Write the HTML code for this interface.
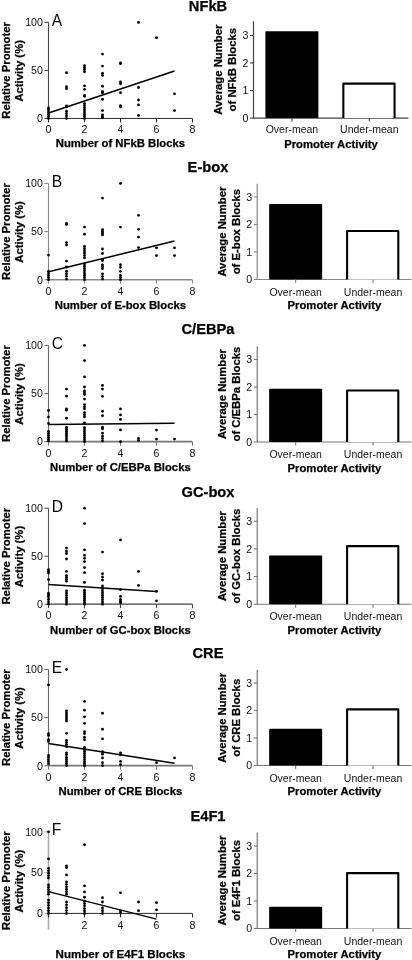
<!DOCTYPE html>
<html><head><meta charset="utf-8"><title>Promoter activity vs transcription factor blocks</title>
<style>
html,body{margin:0;padding:0;background:#fff;}
body{width:412px;height:960px;overflow:hidden;}
svg{display:block;}
text{font-family:"Liberation Sans", Arial, sans-serif;fill:#000;}
.t{font-size:14.7px;font-weight:bold;text-anchor:middle;stroke:#000;stroke-width:0.25px;}
.L{font-size:15.6px;}
.b{font-size:11.3px;font-weight:bold;stroke:#000;stroke-width:0.25px;}
.n{font-size:10.6px;fill:#111;}
.c{font-size:10.5px;fill:#111;}
</style></head>
<body>
<svg width="412" height="960" viewBox="0 0 412 960">
<rect width="412" height="960" fill="#fff"/>
<text x="208" y="10.5" class="t">NFkB</text>
<text transform="translate(51.7 25.7) " class="L">A</text>
<path d="M48.5 22.4V118.45" stroke="#444" stroke-width="1.1" fill="none"/>
<path d="M48.5 118.45H192.3" stroke="#2a2a2a" stroke-width="1.0" fill="none"/>
<path d="M44.5 118.45H48.5" stroke="#444" stroke-width="1.1"/>
<text x="42.9" y="122.25" class="n" text-anchor="end">0</text>
<path d="M44.5 70.42H48.5" stroke="#444" stroke-width="1.1"/>
<text x="42.9" y="74.22" class="n" text-anchor="end">50</text>
<path d="M44.5 22.4H48.5" stroke="#444" stroke-width="1.1"/>
<text x="42.9" y="26.2" class="n" text-anchor="end">100</text>
<path d="M48.5 118.45V122.45" stroke="#2a2a2a" stroke-width="1.1"/>
<text x="48.5" y="133.2" class="n" text-anchor="middle">0</text>
<path d="M84.5 118.45V122.45" stroke="#2a2a2a" stroke-width="1.1"/>
<text x="84.5" y="133.2" class="n" text-anchor="middle">2</text>
<path d="M120.5 118.45V122.45" stroke="#2a2a2a" stroke-width="1.1"/>
<text x="120.5" y="133.2" class="n" text-anchor="middle">4</text>
<path d="M156.5 118.45V122.45" stroke="#2a2a2a" stroke-width="1.1"/>
<text x="156.5" y="133.2" class="n" text-anchor="middle">6</text>
<path d="M192.5 118.45V122.45" stroke="#2a2a2a" stroke-width="1.1"/>
<text x="192.5" y="133.2" class="n" text-anchor="middle">8</text>
<text x="120.4" y="147.4" class="b" text-anchor="middle">Number of NFkB Blocks</text>
<text transform="translate(9.7 70.42) rotate(-90)" class="b" text-anchor="middle">Relative Promoter</text>
<text transform="translate(23.3 70.83) rotate(-90)" class="b" text-anchor="middle">Activity (%)</text>
<g fill="#000"><circle cx="48.5" cy="118.45" r="1.4"/><circle cx="48.5" cy="116.34" r="1.4"/><circle cx="48.5" cy="114.22" r="1.4"/><circle cx="48.5" cy="112.11" r="1.4"/><circle cx="48.5" cy="110" r="1.4"/><circle cx="48.5" cy="107.88" r="1.4"/><circle cx="66.5" cy="72.73" r="1.4"/><circle cx="66.5" cy="86.75" r="1.4"/><circle cx="66.5" cy="88.67" r="1.4"/><circle cx="66.5" cy="105.96" r="1.4"/><circle cx="66.5" cy="106.92" r="1.4"/><circle cx="66.5" cy="118.45" r="1.4"/><circle cx="66.5" cy="116.05" r="1.4"/><circle cx="66.5" cy="113.65" r="1.4"/><circle cx="66.5" cy="111.25" r="1.4"/><circle cx="84.5" cy="65.62" r="1.4"/><circle cx="84.5" cy="67.54" r="1.4"/><circle cx="84.5" cy="69.46" r="1.4"/><circle cx="84.5" cy="71.77" r="1.4"/><circle cx="84.5" cy="85.79" r="1.4"/><circle cx="84.5" cy="89.35" r="1.4"/><circle cx="84.5" cy="95.4" r="1.4"/><circle cx="84.5" cy="96.36" r="1.4"/><circle cx="84.5" cy="118.45" r="1.4"/><circle cx="84.5" cy="116.32" r="1.4"/><circle cx="84.5" cy="114.2" r="1.4"/><circle cx="84.5" cy="112.07" r="1.4"/><circle cx="84.5" cy="109.94" r="1.4"/><circle cx="84.5" cy="107.82" r="1.4"/><circle cx="84.5" cy="105.69" r="1.4"/><circle cx="84.5" cy="103.56" r="1.4"/><circle cx="102.5" cy="54.1" r="1.4"/><circle cx="102.5" cy="66.1" r="1.4"/><circle cx="102.5" cy="73.31" r="1.4"/><circle cx="102.5" cy="75.42" r="1.4"/><circle cx="102.5" cy="86.27" r="1.4"/><circle cx="102.5" cy="91.56" r="1.4"/><circle cx="102.5" cy="93" r="1.4"/><circle cx="102.5" cy="99.24" r="1.4"/><circle cx="102.5" cy="110.57" r="1.4"/><circle cx="102.5" cy="114.8" r="1.4"/><circle cx="102.5" cy="116.53" r="1.4"/><circle cx="102.5" cy="117.78" r="1.4"/><circle cx="120.5" cy="62.93" r="1.4"/><circle cx="120.5" cy="63.7" r="1.4"/><circle cx="120.5" cy="81.95" r="1.4"/><circle cx="120.5" cy="83.87" r="1.4"/><circle cx="120.5" cy="92.71" r="1.4"/><circle cx="120.5" cy="105.68" r="1.4"/><circle cx="120.5" cy="106.92" r="1.4"/><circle cx="138.5" cy="22.4" r="1.4"/><circle cx="138.5" cy="87.52" r="1.4"/><circle cx="138.5" cy="100.01" r="1.4"/><circle cx="138.5" cy="104.91" r="1.4"/><circle cx="138.5" cy="115.38" r="1.4"/><circle cx="156.5" cy="37.77" r="1.4"/><circle cx="174.5" cy="93.86" r="1.4"/><circle cx="174.5" cy="110.57" r="1.4"/></g>
<path d="M48.5 112.98L174.5 71" stroke="#000" stroke-width="1.5" fill="none"/>
<path d="M253.5 21.25V118.1H408.5" stroke="#444" stroke-width="1.2" fill="none"/>
<path d="M250 118.1H253.5" stroke="#444" stroke-width="1.1"/>
<text x="248.3" y="121.9" class="n" text-anchor="end">0</text>
<path d="M250 90.53H253.5" stroke="#444" stroke-width="1.1"/>
<text x="248.3" y="94.33" class="n" text-anchor="end">1</text>
<path d="M250 62.96H253.5" stroke="#444" stroke-width="1.1"/>
<text x="248.3" y="66.76" class="n" text-anchor="end">2</text>
<path d="M250 35.39H253.5" stroke="#444" stroke-width="1.1"/>
<text x="248.3" y="39.19" class="n" text-anchor="end">3</text>
<rect x="265.4" y="31.25" width="53" height="86.85" fill="#000" rx="0.8"/>
<path d="M343.35 118.1V83.58H394.55V118.1" fill="#fff" stroke="#000" stroke-width="2.1" stroke-linejoin="round"/>
<path d="M291.9 118.1V121.6" stroke="#444" stroke-width="1.1"/>
<path d="M369.3 118.1V121.6" stroke="#444" stroke-width="1.1"/>
<text x="291.9" y="133.3" class="c" text-anchor="middle">Over-mean</text>
<text x="369.3" y="133.3" class="c" text-anchor="middle">Under-mean</text>
<text x="331" y="147.7" class="b" text-anchor="middle">Promoter Activity</text>
<text transform="translate(222.2 69.67) rotate(-90)" class="b" text-anchor="middle">Average Number</text>
<text transform="translate(235.9 69.67) rotate(-90)" class="b" text-anchor="middle">of NFkB Blocks</text>
<text x="208" y="172.1" class="t">E-box</text>
<text transform="translate(51.7 186.7) " class="L">B</text>
<path d="M48.5 183.4V279.7" stroke="#888" stroke-width="1.1" fill="none"/>
<path d="M48.5 279.7H192.3" stroke="#8c8c8c" stroke-width="1.6" fill="none"/>
<path d="M44.5 279.7H48.5" stroke="#888" stroke-width="1.1"/>
<text x="42.9" y="283.5" class="n" text-anchor="end">0</text>
<path d="M44.5 231.55H48.5" stroke="#888" stroke-width="1.1"/>
<text x="42.9" y="235.35" class="n" text-anchor="end">50</text>
<path d="M44.5 183.4H48.5" stroke="#888" stroke-width="1.1"/>
<text x="42.9" y="187.2" class="n" text-anchor="end">100</text>
<path d="M48.5 279.7V283.7" stroke="#8c8c8c" stroke-width="1.1"/>
<text x="48.5" y="295" class="n" text-anchor="middle">0</text>
<path d="M84.5 279.7V283.7" stroke="#8c8c8c" stroke-width="1.1"/>
<text x="84.5" y="295" class="n" text-anchor="middle">2</text>
<path d="M120.5 279.7V283.7" stroke="#8c8c8c" stroke-width="1.1"/>
<text x="120.5" y="295" class="n" text-anchor="middle">4</text>
<path d="M156.5 279.7V283.7" stroke="#8c8c8c" stroke-width="1.1"/>
<text x="156.5" y="295" class="n" text-anchor="middle">6</text>
<path d="M192.5 279.7V283.7" stroke="#8c8c8c" stroke-width="1.1"/>
<text x="192.5" y="295" class="n" text-anchor="middle">8</text>
<text x="120.4" y="309.25" class="b" text-anchor="middle">Number of E-box Blocks</text>
<text transform="translate(9.7 231.55) rotate(-90)" class="b" text-anchor="middle">Relative Promoter</text>
<text transform="translate(23.3 231.95) rotate(-90)" class="b" text-anchor="middle">Activity (%)</text>
<g fill="#000"><circle cx="48.5" cy="255.05" r="1.4"/><circle cx="48.5" cy="279.7" r="1.4"/><circle cx="48.5" cy="277.61" r="1.4"/><circle cx="48.5" cy="275.51" r="1.4"/><circle cx="48.5" cy="273.42" r="1.4"/><circle cx="48.5" cy="271.32" r="1.4"/><circle cx="66.5" cy="223.36" r="1.4"/><circle cx="66.5" cy="224.62" r="1.4"/><circle cx="66.5" cy="242.62" r="1.4"/><circle cx="66.5" cy="245.03" r="1.4"/><circle cx="66.5" cy="261.11" r="1.4"/><circle cx="66.5" cy="266.99" r="1.4"/><circle cx="66.5" cy="273.73" r="1.4"/><circle cx="66.5" cy="271.13" r="1.4"/><circle cx="66.5" cy="279.12" r="1.4"/><circle cx="66.5" cy="276.14" r="1.4"/><circle cx="84.5" cy="227.12" r="1.4"/><circle cx="84.5" cy="234.15" r="1.4"/><circle cx="84.5" cy="257.84" r="1.4"/><circle cx="84.5" cy="255.55" r="1.4"/><circle cx="84.5" cy="253.26" r="1.4"/><circle cx="84.5" cy="250.96" r="1.4"/><circle cx="84.5" cy="248.67" r="1.4"/><circle cx="84.5" cy="246.38" r="1.4"/><circle cx="84.5" cy="279.7" r="1.4"/><circle cx="84.5" cy="277.46" r="1.4"/><circle cx="84.5" cy="275.22" r="1.4"/><circle cx="84.5" cy="272.97" r="1.4"/><circle cx="84.5" cy="270.73" r="1.4"/><circle cx="84.5" cy="268.49" r="1.4"/><circle cx="84.5" cy="266.25" r="1.4"/><circle cx="84.5" cy="264" r="1.4"/><circle cx="102.5" cy="198.04" r="1.4"/><circle cx="102.5" cy="234.92" r="1.4"/><circle cx="102.5" cy="233.16" r="1.4"/><circle cx="102.5" cy="231.39" r="1.4"/><circle cx="102.5" cy="229.62" r="1.4"/><circle cx="102.5" cy="248.98" r="1.4"/><circle cx="102.5" cy="253.41" r="1.4"/><circle cx="102.5" cy="259.86" r="1.4"/><circle cx="102.5" cy="260.44" r="1.4"/><circle cx="102.5" cy="268.53" r="1.4"/><circle cx="102.5" cy="266.7" r="1.4"/><circle cx="102.5" cy="264.87" r="1.4"/><circle cx="102.5" cy="279.12" r="1.4"/><circle cx="102.5" cy="276.57" r="1.4"/><circle cx="102.5" cy="274.02" r="1.4"/><circle cx="120.5" cy="183.4" r="1.4"/><circle cx="120.5" cy="227.12" r="1.4"/><circle cx="120.5" cy="267.37" r="1.4"/><circle cx="120.5" cy="264.77" r="1.4"/><circle cx="120.5" cy="271.32" r="1.4"/><circle cx="120.5" cy="279.7" r="1.4"/><circle cx="120.5" cy="277.58" r="1.4"/><circle cx="120.5" cy="275.46" r="1.4"/><circle cx="138.5" cy="215.28" r="1.4"/><circle cx="138.5" cy="229.34" r="1.4"/><circle cx="138.5" cy="237.04" r="1.4"/><circle cx="138.5" cy="247.54" r="1.4"/><circle cx="156.5" cy="247.82" r="1.4"/><circle cx="156.5" cy="255.53" r="1.4"/><circle cx="174.5" cy="247.82" r="1.4"/><circle cx="174.5" cy="255.53" r="1.4"/></g>
<path d="M48.5 271.8L174.5 241.08" stroke="#000" stroke-width="1.5" fill="none"/>
<path d="M257.25 183.75V279.5H411.5" stroke="#888" stroke-width="1.2" fill="none"/>
<path d="M253.75 279.5H257.25" stroke="#888" stroke-width="1.1"/>
<text x="252.05" y="283.3" class="n" text-anchor="end">0</text>
<path d="M253.75 252H257.25" stroke="#888" stroke-width="1.1"/>
<text x="252.05" y="255.8" class="n" text-anchor="end">1</text>
<path d="M253.75 224.5H257.25" stroke="#888" stroke-width="1.1"/>
<text x="252.05" y="228.3" class="n" text-anchor="end">2</text>
<path d="M253.75 197H257.25" stroke="#888" stroke-width="1.1"/>
<text x="252.05" y="200.8" class="n" text-anchor="end">3</text>
<rect x="269.15" y="203.88" width="53" height="75.62" fill="#000" rx="0.8"/>
<path d="M347.1 279.5V231.05H398.3V279.5" fill="#fff" stroke="#000" stroke-width="2.1" stroke-linejoin="round"/>
<path d="M295.65 279.5V283" stroke="#888" stroke-width="1.1"/>
<path d="M373.05 279.5V283" stroke="#888" stroke-width="1.1"/>
<text x="295.65" y="295.5" class="c" text-anchor="middle">Over-mean</text>
<text x="373.05" y="295.5" class="c" text-anchor="middle">Under-mean</text>
<text x="334.38" y="309.1" class="b" text-anchor="middle">Promoter Activity</text>
<text transform="translate(225.95 231.62) rotate(-90)" class="b" text-anchor="middle">Average Number</text>
<text transform="translate(239.65 231.62) rotate(-90)" class="b" text-anchor="middle">of E-box Blocks</text>
<text x="208" y="333.9" class="t">C/EBPa</text>
<text transform="translate(51.7 348.75) " class="L">C</text>
<path d="M48.5 345.45V441.65" stroke="#666" stroke-width="1.1" fill="none"/>
<path d="M48.5 441.65H192.3" stroke="#777" stroke-width="1.7" fill="none"/>
<path d="M44.5 441.65H48.5" stroke="#666" stroke-width="1.1"/>
<text x="42.9" y="445.45" class="n" text-anchor="end">0</text>
<path d="M44.5 393.55H48.5" stroke="#666" stroke-width="1.1"/>
<text x="42.9" y="397.35" class="n" text-anchor="end">50</text>
<path d="M44.5 345.45H48.5" stroke="#666" stroke-width="1.1"/>
<text x="42.9" y="349.25" class="n" text-anchor="end">100</text>
<path d="M48.5 441.65V445.65" stroke="#777" stroke-width="1.1"/>
<text x="48.5" y="456.8" class="n" text-anchor="middle">0</text>
<path d="M84.5 441.65V445.65" stroke="#777" stroke-width="1.1"/>
<text x="84.5" y="456.8" class="n" text-anchor="middle">2</text>
<path d="M120.5 441.65V445.65" stroke="#777" stroke-width="1.1"/>
<text x="120.5" y="456.8" class="n" text-anchor="middle">4</text>
<path d="M156.5 441.65V445.65" stroke="#777" stroke-width="1.1"/>
<text x="156.5" y="456.8" class="n" text-anchor="middle">6</text>
<path d="M192.5 441.65V445.65" stroke="#777" stroke-width="1.1"/>
<text x="192.5" y="456.8" class="n" text-anchor="middle">8</text>
<text x="120.4" y="471.2" class="b" text-anchor="middle">Number of C/EBPa Blocks</text>
<text transform="translate(9.7 393.55) rotate(-90)" class="b" text-anchor="middle">Relative Promoter</text>
<text transform="translate(23.3 393.95) rotate(-90)" class="b" text-anchor="middle">Activity (%)</text>
<g fill="#000"><circle cx="48.5" cy="410.48" r="1.4"/><circle cx="48.5" cy="417.02" r="1.4"/><circle cx="48.5" cy="423.47" r="1.4"/><circle cx="48.5" cy="441.07" r="1.4"/><circle cx="48.5" cy="439.13" r="1.4"/><circle cx="48.5" cy="437.19" r="1.4"/><circle cx="48.5" cy="435.24" r="1.4"/><circle cx="48.5" cy="433.3" r="1.4"/><circle cx="48.5" cy="431.36" r="1.4"/><circle cx="66.5" cy="389.12" r="1.4"/><circle cx="66.5" cy="396.15" r="1.4"/><circle cx="66.5" cy="408.94" r="1.4"/><circle cx="66.5" cy="410.19" r="1.4"/><circle cx="66.5" cy="418.27" r="1.4"/><circle cx="66.5" cy="441.07" r="1.4"/><circle cx="66.5" cy="439.09" r="1.4"/><circle cx="66.5" cy="437.11" r="1.4"/><circle cx="66.5" cy="435.14" r="1.4"/><circle cx="66.5" cy="433.16" r="1.4"/><circle cx="66.5" cy="431.18" r="1.4"/><circle cx="66.5" cy="429.2" r="1.4"/><circle cx="66.5" cy="427.22" r="1.4"/><circle cx="84.5" cy="345.45" r="1.4"/><circle cx="84.5" cy="360.55" r="1.4"/><circle cx="84.5" cy="376.91" r="1.4"/><circle cx="84.5" cy="387.01" r="1.4"/><circle cx="84.5" cy="394.51" r="1.4"/><circle cx="84.5" cy="392.73" r="1.4"/><circle cx="84.5" cy="390.95" r="1.4"/><circle cx="84.5" cy="399.03" r="1.4"/><circle cx="84.5" cy="408.94" r="1.4"/><circle cx="84.5" cy="406.78" r="1.4"/><circle cx="84.5" cy="404.61" r="1.4"/><circle cx="84.5" cy="416.83" r="1.4"/><circle cx="84.5" cy="414.71" r="1.4"/><circle cx="84.5" cy="412.6" r="1.4"/><circle cx="84.5" cy="422.89" r="1.4"/><circle cx="84.5" cy="441.65" r="1.4"/><circle cx="84.5" cy="439.66" r="1.4"/><circle cx="84.5" cy="437.66" r="1.4"/><circle cx="84.5" cy="435.67" r="1.4"/><circle cx="84.5" cy="433.68" r="1.4"/><circle cx="84.5" cy="431.69" r="1.4"/><circle cx="84.5" cy="429.69" r="1.4"/><circle cx="84.5" cy="427.7" r="1.4"/><circle cx="102.5" cy="385.47" r="1.4"/><circle cx="102.5" cy="389.12" r="1.4"/><circle cx="102.5" cy="396.34" r="1.4"/><circle cx="102.5" cy="411.25" r="1.4"/><circle cx="102.5" cy="415.68" r="1.4"/><circle cx="102.5" cy="428.95" r="1.4"/><circle cx="102.5" cy="427.22" r="1.4"/><circle cx="102.5" cy="433.18" r="1.4"/><circle cx="102.5" cy="441.07" r="1.4"/><circle cx="102.5" cy="438.62" r="1.4"/><circle cx="102.5" cy="436.17" r="1.4"/><circle cx="120.5" cy="408.94" r="1.4"/><circle cx="120.5" cy="414.91" r="1.4"/><circle cx="120.5" cy="419.43" r="1.4"/><circle cx="120.5" cy="429.91" r="1.4"/><circle cx="120.5" cy="441.65" r="1.4"/><circle cx="138.5" cy="440.4" r="1.4"/><circle cx="138.5" cy="438.38" r="1.4"/><circle cx="156.5" cy="430.11" r="1.4"/><circle cx="156.5" cy="439.05" r="1.4"/><circle cx="174.5" cy="439.05" r="1.4"/></g>
<path d="M48.5 424.62L174.5 423.37" stroke="#000" stroke-width="1.5" fill="none"/>
<path d="M257.25 346.25V442H411.5" stroke="#777" stroke-width="1.2" fill="none"/>
<path d="M253.75 442H257.25" stroke="#777" stroke-width="1.1"/>
<text x="252.05" y="445.8" class="n" text-anchor="end">0</text>
<path d="M253.75 414.5H257.25" stroke="#777" stroke-width="1.1"/>
<text x="252.05" y="418.3" class="n" text-anchor="end">1</text>
<path d="M253.75 387H257.25" stroke="#777" stroke-width="1.1"/>
<text x="252.05" y="390.8" class="n" text-anchor="end">2</text>
<path d="M253.75 359.5H257.25" stroke="#777" stroke-width="1.1"/>
<text x="252.05" y="363.3" class="n" text-anchor="end">3</text>
<rect x="269.15" y="388.65" width="53" height="53.35" fill="#000" rx="0.8"/>
<path d="M347.1 442V390.53H398.3V442" fill="#fff" stroke="#000" stroke-width="2.1" stroke-linejoin="round"/>
<path d="M295.65 442V445.5" stroke="#777" stroke-width="1.1"/>
<path d="M373.05 442V445.5" stroke="#777" stroke-width="1.1"/>
<text x="295.65" y="458" class="c" text-anchor="middle">Over-mean</text>
<text x="373.05" y="458" class="c" text-anchor="middle">Under-mean</text>
<text x="334.38" y="471.6" class="b" text-anchor="middle">Promoter Activity</text>
<text transform="translate(225.95 394.12) rotate(-90)" class="b" text-anchor="middle">Average Number</text>
<text transform="translate(239.65 394.12) rotate(-90)" class="b" text-anchor="middle">of C/EBPa Blocks</text>
<text x="208" y="496.8" class="t">GC-box</text>
<text transform="translate(51.7 511.5) " class="L">D</text>
<path d="M48.5 508.2V604.2" stroke="#555" stroke-width="1.1" fill="none"/>
<path d="M48.5 604.2H192.3" stroke="#444" stroke-width="1.3" fill="none"/>
<path d="M44.5 604.2H48.5" stroke="#555" stroke-width="1.1"/>
<text x="42.9" y="608" class="n" text-anchor="end">0</text>
<path d="M44.5 556.2H48.5" stroke="#555" stroke-width="1.1"/>
<text x="42.9" y="560" class="n" text-anchor="end">50</text>
<path d="M44.5 508.2H48.5" stroke="#555" stroke-width="1.1"/>
<text x="42.9" y="512" class="n" text-anchor="end">100</text>
<path d="M48.5 604.2V608.2" stroke="#444" stroke-width="1.1"/>
<text x="48.5" y="619.2" class="n" text-anchor="middle">0</text>
<path d="M84.5 604.2V608.2" stroke="#444" stroke-width="1.1"/>
<text x="84.5" y="619.2" class="n" text-anchor="middle">2</text>
<path d="M120.5 604.2V608.2" stroke="#444" stroke-width="1.1"/>
<text x="120.5" y="619.2" class="n" text-anchor="middle">4</text>
<path d="M156.5 604.2V608.2" stroke="#444" stroke-width="1.1"/>
<text x="156.5" y="619.2" class="n" text-anchor="middle">6</text>
<path d="M192.5 604.2V608.2" stroke="#444" stroke-width="1.1"/>
<text x="192.5" y="619.2" class="n" text-anchor="middle">8</text>
<text x="120.4" y="633.6" class="b" text-anchor="middle">Number of GC-box Blocks</text>
<text transform="translate(9.7 556.2) rotate(-90)" class="b" text-anchor="middle">Relative Promoter</text>
<text transform="translate(23.3 556.6) rotate(-90)" class="b" text-anchor="middle">Activity (%)</text>
<g fill="#000"><circle cx="48.5" cy="573" r="1.4"/><circle cx="48.5" cy="571.32" r="1.4"/><circle cx="48.5" cy="569.64" r="1.4"/><circle cx="48.5" cy="579.62" r="1.4"/><circle cx="48.5" cy="597" r="1.4"/><circle cx="48.5" cy="595.13" r="1.4"/><circle cx="48.5" cy="593.26" r="1.4"/><circle cx="48.5" cy="604.2" r="1.4"/><circle cx="48.5" cy="601.8" r="1.4"/><circle cx="48.5" cy="599.4" r="1.4"/><circle cx="66.5" cy="548.04" r="1.4"/><circle cx="66.5" cy="553.51" r="1.4"/><circle cx="66.5" cy="551.11" r="1.4"/><circle cx="66.5" cy="558.98" r="1.4"/><circle cx="66.5" cy="571.37" r="1.4"/><circle cx="66.5" cy="581.16" r="1.4"/><circle cx="66.5" cy="579.3" r="1.4"/><circle cx="66.5" cy="577.45" r="1.4"/><circle cx="66.5" cy="575.59" r="1.4"/><circle cx="66.5" cy="604.2" r="1.4"/><circle cx="66.5" cy="601.98" r="1.4"/><circle cx="66.5" cy="599.75" r="1.4"/><circle cx="66.5" cy="597.53" r="1.4"/><circle cx="66.5" cy="595.3" r="1.4"/><circle cx="66.5" cy="593.08" r="1.4"/><circle cx="66.5" cy="590.86" r="1.4"/><circle cx="84.5" cy="508.2" r="1.4"/><circle cx="84.5" cy="523.56" r="1.4"/><circle cx="84.5" cy="549.86" r="1.4"/><circle cx="84.5" cy="558.31" r="1.4"/><circle cx="84.5" cy="555.34" r="1.4"/><circle cx="84.5" cy="561.58" r="1.4"/><circle cx="84.5" cy="567.62" r="1.4"/><circle cx="84.5" cy="572.71" r="1.4"/><circle cx="84.5" cy="582.41" r="1.4"/><circle cx="84.5" cy="604.2" r="1.4"/><circle cx="84.5" cy="602.2" r="1.4"/><circle cx="84.5" cy="600.2" r="1.4"/><circle cx="84.5" cy="598.19" r="1.4"/><circle cx="84.5" cy="596.19" r="1.4"/><circle cx="84.5" cy="594.19" r="1.4"/><circle cx="84.5" cy="592.19" r="1.4"/><circle cx="84.5" cy="590.18" r="1.4"/><circle cx="102.5" cy="552.07" r="1.4"/><circle cx="102.5" cy="573.67" r="1.4"/><circle cx="102.5" cy="580.01" r="1.4"/><circle cx="102.5" cy="576.94" r="1.4"/><circle cx="102.5" cy="585.96" r="1.4"/><circle cx="102.5" cy="604.2" r="1.4"/><circle cx="102.5" cy="601.95" r="1.4"/><circle cx="102.5" cy="599.7" r="1.4"/><circle cx="102.5" cy="597.45" r="1.4"/><circle cx="102.5" cy="595.2" r="1.4"/><circle cx="102.5" cy="592.95" r="1.4"/><circle cx="102.5" cy="590.71" r="1.4"/><circle cx="102.5" cy="588.46" r="1.4"/><circle cx="120.5" cy="539.88" r="1.4"/><circle cx="120.5" cy="589.7" r="1.4"/><circle cx="120.5" cy="596.42" r="1.4"/><circle cx="120.5" cy="602.95" r="1.4"/><circle cx="120.5" cy="601.18" r="1.4"/><circle cx="120.5" cy="599.4" r="1.4"/><circle cx="138.5" cy="571.46" r="1.4"/><circle cx="138.5" cy="585.38" r="1.4"/><circle cx="156.5" cy="591.43" r="1.4"/><circle cx="156.5" cy="600.84" r="1.4"/></g>
<path d="M48.5 584.52L156.5 591.43" stroke="#000" stroke-width="1.5" fill="none"/>
<path d="M257.25 508V604.25H411.5" stroke="#777" stroke-width="1.2" fill="none"/>
<path d="M253.75 604.25H257.25" stroke="#777" stroke-width="1.1"/>
<text x="252.05" y="608.05" class="n" text-anchor="end">0</text>
<path d="M253.75 576.58H257.25" stroke="#777" stroke-width="1.1"/>
<text x="252.05" y="580.38" class="n" text-anchor="end">1</text>
<path d="M253.75 548.91H257.25" stroke="#777" stroke-width="1.1"/>
<text x="252.05" y="552.71" class="n" text-anchor="end">2</text>
<path d="M253.75 521.24H257.25" stroke="#777" stroke-width="1.1"/>
<text x="252.05" y="525.04" class="n" text-anchor="end">3</text>
<rect x="269.15" y="555.55" width="53" height="48.7" fill="#000" rx="0.8"/>
<path d="M347.1 604.25V546.09H398.3V604.25" fill="#fff" stroke="#000" stroke-width="2.1" stroke-linejoin="round"/>
<path d="M295.65 604.25V607.75" stroke="#777" stroke-width="1.1"/>
<path d="M373.05 604.25V607.75" stroke="#777" stroke-width="1.1"/>
<text x="295.65" y="620.25" class="c" text-anchor="middle">Over-mean</text>
<text x="373.05" y="620.25" class="c" text-anchor="middle">Under-mean</text>
<text x="334.38" y="633.85" class="b" text-anchor="middle">Promoter Activity</text>
<text transform="translate(225.95 556.12) rotate(-90)" class="b" text-anchor="middle">Average Number</text>
<text transform="translate(239.65 556.12) rotate(-90)" class="b" text-anchor="middle">of GC-box Blocks</text>
<text x="208" y="658.1" class="t">CRE</text>
<text transform="translate(51.7 672.8) " class="L">E</text>
<path d="M48.5 669.5V765.7" stroke="#666" stroke-width="1.1" fill="none"/>
<path d="M48.5 765.7H192.3" stroke="#777" stroke-width="1.8" fill="none"/>
<path d="M44.5 765.7H48.5" stroke="#666" stroke-width="1.1"/>
<text x="42.9" y="769.5" class="n" text-anchor="end">0</text>
<path d="M44.5 717.6H48.5" stroke="#666" stroke-width="1.1"/>
<text x="42.9" y="721.4" class="n" text-anchor="end">50</text>
<path d="M44.5 669.5H48.5" stroke="#666" stroke-width="1.1"/>
<text x="42.9" y="673.3" class="n" text-anchor="end">100</text>
<path d="M48.5 765.7V769.7" stroke="#777" stroke-width="1.1"/>
<text x="48.5" y="780.8" class="n" text-anchor="middle">0</text>
<path d="M84.5 765.7V769.7" stroke="#777" stroke-width="1.1"/>
<text x="84.5" y="780.8" class="n" text-anchor="middle">2</text>
<path d="M120.5 765.7V769.7" stroke="#777" stroke-width="1.1"/>
<text x="120.5" y="780.8" class="n" text-anchor="middle">4</text>
<path d="M156.5 765.7V769.7" stroke="#777" stroke-width="1.1"/>
<text x="156.5" y="780.8" class="n" text-anchor="middle">6</text>
<path d="M192.5 765.7V769.7" stroke="#777" stroke-width="1.1"/>
<text x="192.5" y="780.8" class="n" text-anchor="middle">8</text>
<text x="120.4" y="795.1" class="b" text-anchor="middle">Number of CRE Blocks</text>
<text transform="translate(9.7 717.6) rotate(-90)" class="b" text-anchor="middle">Relative Promoter</text>
<text transform="translate(23.3 718) rotate(-90)" class="b" text-anchor="middle">Activity (%)</text>
<g fill="#000"><circle cx="48.5" cy="684.89" r="1.4"/><circle cx="48.5" cy="735.4" r="1.4"/><circle cx="48.5" cy="733.57" r="1.4"/><circle cx="48.5" cy="741.46" r="1.4"/><circle cx="48.5" cy="739.73" r="1.4"/><circle cx="48.5" cy="763.87" r="1.4"/><circle cx="48.5" cy="761.76" r="1.4"/><circle cx="48.5" cy="759.64" r="1.4"/><circle cx="48.5" cy="757.52" r="1.4"/><circle cx="48.5" cy="755.41" r="1.4"/><circle cx="66.5" cy="669.5" r="1.4"/><circle cx="66.5" cy="721.06" r="1.4"/><circle cx="66.5" cy="719.02" r="1.4"/><circle cx="66.5" cy="716.98" r="1.4"/><circle cx="66.5" cy="714.94" r="1.4"/><circle cx="66.5" cy="712.91" r="1.4"/><circle cx="66.5" cy="710.87" r="1.4"/><circle cx="66.5" cy="733.28" r="1.4"/><circle cx="66.5" cy="744.54" r="1.4"/><circle cx="66.5" cy="742.42" r="1.4"/><circle cx="66.5" cy="740.3" r="1.4"/><circle cx="66.5" cy="746.84" r="1.4"/><circle cx="66.5" cy="754.83" r="1.4"/><circle cx="66.5" cy="753" r="1.4"/><circle cx="66.5" cy="765.7" r="1.4"/><circle cx="66.5" cy="763.61" r="1.4"/><circle cx="66.5" cy="761.52" r="1.4"/><circle cx="66.5" cy="759.42" r="1.4"/><circle cx="66.5" cy="757.33" r="1.4"/><circle cx="84.5" cy="701.44" r="1.4"/><circle cx="84.5" cy="710.19" r="1.4"/><circle cx="84.5" cy="716.83" r="1.4"/><circle cx="84.5" cy="723.28" r="1.4"/><circle cx="84.5" cy="733.57" r="1.4"/><circle cx="84.5" cy="731.74" r="1.4"/><circle cx="84.5" cy="739.73" r="1.4"/><circle cx="84.5" cy="737.13" r="1.4"/><circle cx="84.5" cy="765.7" r="1.4"/><circle cx="84.5" cy="763.67" r="1.4"/><circle cx="84.5" cy="761.64" r="1.4"/><circle cx="84.5" cy="759.61" r="1.4"/><circle cx="84.5" cy="757.58" r="1.4"/><circle cx="84.5" cy="755.55" r="1.4"/><circle cx="84.5" cy="753.51" r="1.4"/><circle cx="84.5" cy="751.48" r="1.4"/><circle cx="84.5" cy="749.45" r="1.4"/><circle cx="84.5" cy="747.42" r="1.4"/><circle cx="102.5" cy="713.27" r="1.4"/><circle cx="102.5" cy="729.24" r="1.4"/><circle cx="102.5" cy="738.96" r="1.4"/><circle cx="102.5" cy="754.16" r="1.4"/><circle cx="102.5" cy="751.75" r="1.4"/><circle cx="102.5" cy="757.91" r="1.4"/><circle cx="102.5" cy="765.7" r="1.4"/><circle cx="102.5" cy="762.72" r="1.4"/><circle cx="120.5" cy="754.83" r="1.4"/><circle cx="120.5" cy="752.81" r="1.4"/><circle cx="120.5" cy="764.55" r="1.4"/><circle cx="120.5" cy="761.47" r="1.4"/><circle cx="156.5" cy="762.72" r="1.4"/><circle cx="174.5" cy="757.91" r="1.4"/></g>
<path d="M48.5 743.48L174.5 763.3" stroke="#000" stroke-width="1.5" fill="none"/>
<path d="M257.25 670V765.5H411.5" stroke="#777" stroke-width="1.2" fill="none"/>
<path d="M253.75 765.5H257.25" stroke="#777" stroke-width="1.1"/>
<text x="252.05" y="769.3" class="n" text-anchor="end">0</text>
<path d="M253.75 738H257.25" stroke="#777" stroke-width="1.1"/>
<text x="252.05" y="741.8" class="n" text-anchor="end">1</text>
<path d="M253.75 710.5H257.25" stroke="#777" stroke-width="1.1"/>
<text x="252.05" y="714.3" class="n" text-anchor="end">2</text>
<path d="M253.75 683H257.25" stroke="#777" stroke-width="1.1"/>
<text x="252.05" y="686.8" class="n" text-anchor="end">3</text>
<rect x="269.15" y="728.65" width="53" height="36.85" fill="#000" rx="0.8"/>
<path d="M347.1 765.5V709.35H398.3V765.5" fill="#fff" stroke="#000" stroke-width="2.1" stroke-linejoin="round"/>
<path d="M295.65 765.5V769" stroke="#777" stroke-width="1.1"/>
<path d="M373.05 765.5V769" stroke="#777" stroke-width="1.1"/>
<text x="295.65" y="781.5" class="c" text-anchor="middle">Over-mean</text>
<text x="373.05" y="781.5" class="c" text-anchor="middle">Under-mean</text>
<text x="334.38" y="795.1" class="b" text-anchor="middle">Promoter Activity</text>
<text transform="translate(225.95 717.75) rotate(-90)" class="b" text-anchor="middle">Average Number</text>
<text transform="translate(239.65 717.75) rotate(-90)" class="b" text-anchor="middle">of CRE Blocks</text>
<text x="208" y="821" class="t">E4F1</text>
<text transform="translate(51.7 835.1) " class="L">F</text>
<path d="M48.5 831.8V929.72" stroke="#aaa" stroke-width="1.6" fill="none"/>
<path d="M48.5 913.4H192.3" stroke="#2a2a2a" stroke-width="1.0" fill="none"/>
<path d="M44.5 913.4H48.5" stroke="#aaa" stroke-width="1.1"/>
<text x="42.9" y="917.2" class="n" text-anchor="end">0</text>
<path d="M44.5 872.6H48.5" stroke="#aaa" stroke-width="1.1"/>
<text x="42.9" y="876.4" class="n" text-anchor="end">50</text>
<path d="M44.5 831.8H48.5" stroke="#aaa" stroke-width="1.1"/>
<text x="42.9" y="835.6" class="n" text-anchor="end">100</text>
<path d="M48.5 913.4V917.4" stroke="#2a2a2a" stroke-width="1.1"/>
<path d="M84.5 913.4V917.4" stroke="#2a2a2a" stroke-width="1.1"/>
<text x="84.5" y="929" class="n" text-anchor="middle">2</text>
<path d="M120.5 913.4V917.4" stroke="#2a2a2a" stroke-width="1.1"/>
<text x="120.5" y="929" class="n" text-anchor="middle">4</text>
<path d="M156.5 913.4V917.4" stroke="#2a2a2a" stroke-width="1.1"/>
<text x="156.5" y="929" class="n" text-anchor="middle">6</text>
<path d="M192.5 913.4V917.4" stroke="#2a2a2a" stroke-width="1.1"/>
<text x="192.5" y="929" class="n" text-anchor="middle">8</text>
<text x="120.4" y="958.4" class="b" text-anchor="middle" style="font-size:11.55px">Number of E4F1 Blocks</text>
<text transform="translate(9.7 880.76) rotate(-90)" class="b" text-anchor="middle" style="font-size:11.55px">Relative Promoter</text>
<text transform="translate(23.3 881.16) rotate(-90)" class="b" text-anchor="middle" style="font-size:11.55px">Activity (%)</text>
<g fill="#000"><circle cx="48.5" cy="831.8" r="1.4"/><circle cx="48.5" cy="858.81" r="1.4"/><circle cx="48.5" cy="877.99" r="1.4"/><circle cx="48.5" cy="875.58" r="1.4"/><circle cx="48.5" cy="873.17" r="1.4"/><circle cx="48.5" cy="870.76" r="1.4"/><circle cx="48.5" cy="868.36" r="1.4"/><circle cx="48.5" cy="894.14" r="1.4"/><circle cx="48.5" cy="891.86" r="1.4"/><circle cx="48.5" cy="889.57" r="1.4"/><circle cx="48.5" cy="887.29" r="1.4"/><circle cx="48.5" cy="885" r="1.4"/><circle cx="48.5" cy="913.4" r="1.4"/><circle cx="48.5" cy="910.74" r="1.4"/><circle cx="48.5" cy="908.08" r="1.4"/><circle cx="48.5" cy="905.42" r="1.4"/><circle cx="48.5" cy="902.76" r="1.4"/><circle cx="48.5" cy="900.1" r="1.4"/><circle cx="66.5" cy="867.7" r="1.4"/><circle cx="66.5" cy="865.83" r="1.4"/><circle cx="66.5" cy="874.97" r="1.4"/><circle cx="66.5" cy="894.14" r="1.4"/><circle cx="66.5" cy="891.69" r="1.4"/><circle cx="66.5" cy="889.25" r="1.4"/><circle cx="66.5" cy="886.8" r="1.4"/><circle cx="66.5" cy="884.35" r="1.4"/><circle cx="66.5" cy="881.9" r="1.4"/><circle cx="66.5" cy="913.4" r="1.4"/><circle cx="66.5" cy="910.54" r="1.4"/><circle cx="66.5" cy="907.69" r="1.4"/><circle cx="66.5" cy="904.83" r="1.4"/><circle cx="66.5" cy="901.98" r="1.4"/><circle cx="84.5" cy="844.77" r="1.4"/><circle cx="84.5" cy="885.82" r="1.4"/><circle cx="84.5" cy="891.94" r="1.4"/><circle cx="84.5" cy="897.24" r="1.4"/><circle cx="84.5" cy="913.4" r="1.4"/><circle cx="84.5" cy="910.97" r="1.4"/><circle cx="84.5" cy="908.54" r="1.4"/><circle cx="84.5" cy="906.1" r="1.4"/><circle cx="84.5" cy="903.67" r="1.4"/><circle cx="84.5" cy="901.24" r="1.4"/><circle cx="102.5" cy="897.73" r="1.4"/><circle cx="102.5" cy="901.98" r="1.4"/><circle cx="102.5" cy="913.4" r="1.4"/><circle cx="102.5" cy="910.71" r="1.4"/><circle cx="102.5" cy="908.01" r="1.4"/><circle cx="120.5" cy="892.84" r="1.4"/><circle cx="120.5" cy="912.91" r="1.4"/><circle cx="120.5" cy="911.12" r="1.4"/><circle cx="138.5" cy="901.98" r="1.4"/><circle cx="138.5" cy="910.71" r="1.4"/><circle cx="156.5" cy="902.63" r="1.4"/><circle cx="156.5" cy="909.81" r="1.4"/></g>
<path d="M48.5 891.61L156.5 919.11" stroke="#000" stroke-width="1.5" fill="none"/>
<path d="M257.25 832.5V928.5H411.5" stroke="#777" stroke-width="1.2" fill="none"/>
<path d="M253.75 928.5H257.25" stroke="#777" stroke-width="1.1"/>
<text x="252.05" y="932.3" class="n" text-anchor="end">0</text>
<path d="M253.75 901H257.25" stroke="#777" stroke-width="1.1"/>
<text x="252.05" y="904.8" class="n" text-anchor="end">1</text>
<path d="M253.75 873.5H257.25" stroke="#777" stroke-width="1.1"/>
<text x="252.05" y="877.3" class="n" text-anchor="end">2</text>
<path d="M253.75 846H257.25" stroke="#777" stroke-width="1.1"/>
<text x="252.05" y="849.8" class="n" text-anchor="end">3</text>
<rect x="269.15" y="906.77" width="53" height="21.73" fill="#000" rx="0.8"/>
<path d="M347.1 928.5V873.17H398.3V928.5" fill="#fff" stroke="#000" stroke-width="2.1" stroke-linejoin="round"/>
<path d="M295.65 928.5V932" stroke="#777" stroke-width="1.1"/>
<path d="M373.05 928.5V932" stroke="#777" stroke-width="1.1"/>
<text x="295.65" y="944.5" class="c" text-anchor="middle">Over-mean</text>
<text x="373.05" y="944.5" class="c" text-anchor="middle">Under-mean</text>
<text x="334.38" y="958.1" class="b" text-anchor="middle">Promoter Activity</text>
<text transform="translate(225.95 880.5) rotate(-90)" class="b" text-anchor="middle">Average Number</text>
<text transform="translate(239.65 880.5) rotate(-90)" class="b" text-anchor="middle">of E4F1 Blocks</text>
</svg>
</body></html>
